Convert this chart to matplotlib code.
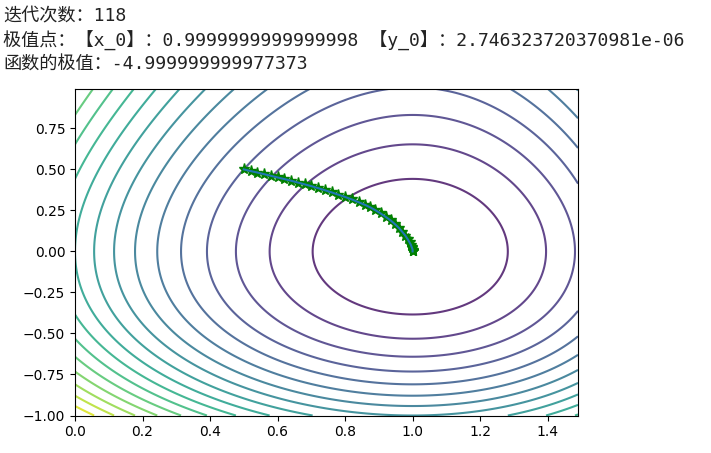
import numpy as np
import matplotlib.pyplot as plt

# objective: f(x, y) = x^3 - y^3 + 3x^2 + 3y^2 - 9x, minimum at (1, 0)
x_grid = np.arange(0, 1.5, 0.01)
y_grid = np.arange(-1, 1, 0.01)

# gradient descent path
path_x = [0.500, 0.520, 0.540, 0.560, 0.580, 0.600, 0.620, 0.640, 0.660, 0.680,
          0.700, 0.720, 0.740, 0.760, 0.780, 0.800, 0.820, 0.840, 0.860, 0.875,
          0.890, 0.905, 0.920, 0.935, 0.948, 0.960, 0.970, 0.979, 0.986, 0.991,
          0.995, 0.997, 0.999, 1.000, 1.000, 1.000, 1.000]
path_y = [0.500, 0.490, 0.481, 0.471, 0.461, 0.451, 0.441, 0.431, 0.420, 0.409,
          0.398, 0.386, 0.373, 0.360, 0.346, 0.332, 0.317, 0.300, 0.283, 0.268,
          0.251, 0.232, 0.211, 0.189, 0.166, 0.142, 0.118, 0.095, 0.073, 0.055,
          0.040, 0.028, 0.018, 0.010, 0.005, 0.002, 0.000]

lines = ['迭代次数：118',
         '极值点：【x_0】：0.9999999999999998 【y_0】：2.746323720370981e-06',
         '函数的极值：-4.999999999977373']


def f(x, y):
    return x**3 - y**3 + 3*x**2 + 3*y**2 - 9*x


X, Y = np.meshgrid(x_grid, y_grid)
Z = f(X, Y)

fig = plt.figure(figsize=(7.11, 4.53), dpi=100)
ax = fig.add_axes([75/711, 1 - 415.5/453, 503/711, 326.5/453])

ax.contour(X, Y, Z, levels=20, alpha=0.85)
ax.plot(path_x, path_y, 'g*', ms=8)
ax.plot(path_x, path_y)

for i, s in enumerate(lines):
    fig.text(3/711, 1 - (16 + 24.5*i)/453, s, va='center', ha='left',
             fontsize=13.1, color='#222222',
             family=['DejaVu Sans Mono', 'Noto Sans CJK SC'])

fig.savefig('out.png', dpi=100)
